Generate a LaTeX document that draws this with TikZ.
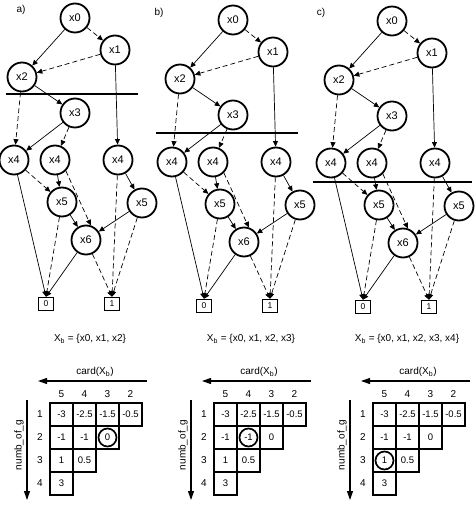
\documentclass[tikz,border=0pt]{standalone}
\usepackage{fontspec}
\setmainfont{Liberation Sans}
\usetikzlibrary{arrows.meta}

\tikzset{
  bnode/.style={circle,draw,line width=1.8pt,minimum size=29pt,inner sep=0pt,font=\fontsize{11}{12}\selectfont},
  term/.style={rectangle,draw,line width=1.6pt,minimum width=15pt,minimum height=13pt,inner sep=0pt,font=\fontsize{8.5}{9}\selectfont},
  hi/.style={-{Triangle[length=5.5pt,width=5pt]},line width=0.7pt},
  lo/.style={hi,dash pattern=on 5pt off 3pt},
  cutline/.style={line width=1.8pt},
  cell/.style={rectangle,draw,line width=1.1pt,minimum size=23pt,inner sep=0pt,font=\fontsize{9.5}{11}\selectfont},
  lab/.style={font=\fontsize{10}{11}\selectfont},
  tarrow/.style={-{Triangle[length=9pt,width=6pt]},line width=1.1pt},
  hl/.style={circle,draw,line width=1.7pt,minimum size=18pt,inner sep=0pt},
}

\newcommand\drawbdd[3]{%
  \begin{scope}[shift={(#2,#3)}]
    \node[bnode] (#1x0) at (75,18) {x0};
    \node[bnode] (#1x1) at (115,50) {x1};
    \node[bnode] (#1x2) at (22,77) {x2};
    \node[bnode] (#1x3) at (75,113) {x3};
    \node[bnode] (#1x4l) at (14,160) {x4};
    \node[bnode] (#1x4m) at (55,160) {x4};
    \node[bnode] (#1x4r) at (118,160) {x4};
    \node[bnode] (#1x5m) at (62,202) {x5};
    \node[bnode] (#1x5r) at (142,203) {x5};
    \node[bnode] (#1x6) at (86,240) {x6};
    \node[term] (#1t0) at (46,304) {0};
    \node[term] (#1t1) at (112,304) {1};
    \draw[hi] (#1x0) -- (#1x2);
    \draw[lo] (#1x0) -- (#1x1);
    \draw[lo] (#1x1) -- (#1x2);
    \draw[hi] (#1x1) -- (#1x4r);
    \draw[hi] (#1x2) -- (#1x3);
    \draw[lo] (#1x2) -- (#1x4l);
    \draw[hi] (#1x3) -- (#1x4l);
    \draw[lo] (#1x3) -- (#1x4m);
    \draw[hi] (#1x4l) -- (#1t0.north);
    \draw[lo] (#1x4l) -- (#1x5m);
    \draw[hi] (#1x4m) -- (#1x5m);
    \draw[lo] (#1x4m.-45) -- (#1x6.72);
    \draw[lo] (#1x4r) -- (#1t1.north);
    \draw[hi] (#1x4r) -- (#1x5r);
    \draw[hi] (#1x5m) -- (#1x6);
    \draw[lo] (#1x5m) -- (#1t0.north);
    \draw[hi] (#1x5r) -- (#1x6);
    \draw[lo] (#1x5r) -- (#1t1.north);
    \draw[hi] (#1x6) -- (#1t0.north);
    \draw[lo] (#1x6) -- (#1t1.north);
  \end{scope}%
}

\newcommand\drawtable[4]{%
  \begin{scope}[shift={(#2,0)}]
    \node[lab] (#1card) at (95,372) {card(X\textsubscript{b})};
    \coordinate (#1ha) at (147,381);
    \coordinate (#1hb) at (38,381);
    \draw[tarrow] (#1ha) -- (#1hb);
    \coordinate (#1va) at (27,400);
    \coordinate (#1vb) at (27,500);
    \draw[tarrow] (#1va) -- (#1vb);
    \node[lab,rotate=90] (#1ng) at (19,445) {numb\_of\_g};
    \node[lab] (#1h5) at (61.5,394) {5};
    \node[lab] (#1h4) at (84.5,394) {4};
    \node[lab] (#1h3) at (107.5,394) {3};
    \node[lab] (#1h2) at (130.5,394) {2};
    \node[lab] (#1r1) at (40,414.5) {1};
    \node[lab] (#1r2) at (40,437.5) {2};
    \node[lab] (#1r3) at (40,460.5) {3};
    \node[lab] (#1r4) at (40,483.5) {4};
    \node[cell] (#1c11) at (61.5,414.5) {-3};
    \node[cell] (#1c12) at (84.5,414.5) {-2.5};
    \node[cell] (#1c13) at (107.5,414.5) {-1.5};
    \node[cell] (#1c14) at (130.5,414.5) {-0.5};
    \node[cell] (#1c21) at (61.5,437.5) {-1};
    \node[cell] (#1c22) at (84.5,437.5) {-1};
    \node[cell] (#1c23) at (107.5,437.5) {0};
    \node[cell] (#1c31) at (61.5,460.5) {1};
    \node[cell] (#1c32) at (84.5,460.5) {0.5};
    \node[cell] (#1c41) at (61.5,483.5) {3};
    \node[hl] (#1hl) at (#1c#3#4) {};
  \end{scope}%
}

\begin{document}
\begin{tikzpicture}[x=1pt,y=-1pt]
  \useasboundingbox (0,0) rectangle (474,505);
  \drawbdd{a}{0}{0}
  \drawbdd{b}{158}{2}
  \drawbdd{c}{317}{3}
  \node[lab] (la) at (21,10) {a)};
  \node[lab] (lb) at (159,13) {b)};
  \node[lab] (lc) at (321,13) {c)};
  \coordinate (acl) at (6,94);
  \coordinate (acr) at (138,94);
  \draw[cutline] (acl) -- (acr);
  \coordinate (bcl) at (156,133);
  \coordinate (bcr) at (298,133);
  \draw[cutline] (bcl) -- (bcr);
  \coordinate (ccl) at (313,182);
  \coordinate (ccr) at (472,182);
  \draw[cutline] (ccl) -- (ccr);
  \node[lab] (xa) at (90,339) {X\textsubscript{b} = \{x0, x1, x2\}};
  \node[lab] (xb) at (251,339) {X\textsubscript{b} = \{x0, x1, x2, x3\}};
  \node[lab] (xc) at (407,339) {X\textsubscript{b} = \{x0, x1, x2, x3, x4\}};
  \drawtable{ta}{0}{2}{3}
  \drawtable{tb}{164}{2}{2}
  \drawtable{tc}{323}{3}{1}
\end{tikzpicture}
\end{document}
